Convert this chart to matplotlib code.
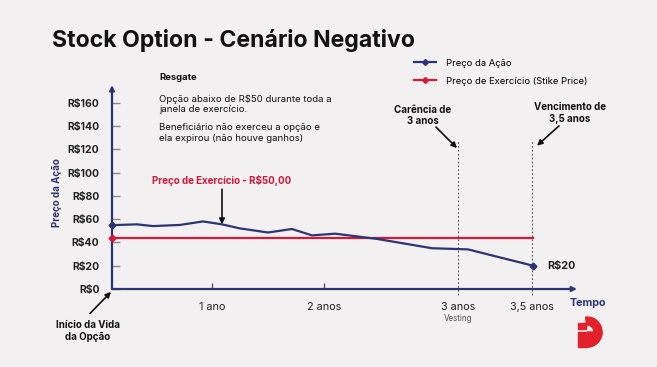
import matplotlib.pyplot as plt
from matplotlib.patches import Wedge, Rectangle

# Data (time axis in relative units, stock price in R$)
price_t = [0.0, 0.25, 0.41, 0.68, 0.91, 1.10, 1.28, 1.56, 1.80, 2.00, 2.23, 2.65, 3.20, 3.56, 4.21]
price_v = [54.8, 55.5, 54.0, 55.0, 58.0, 55.5, 52.0, 48.5, 51.5, 46.0, 47.5, 43.0, 35.0, 34.0, 20.0]
strike_t = [0.0, 4.21]
strike_v = [44.0, 44.0]
y_ticks = [0, 20, 40, 60, 80, 100, 120, 140, 160]
y_labels = ['R$' + str(v) for v in y_ticks]
x_ticks = [1.0, 2.12, 3.46, 4.20]
x_labels = ['1 ano', '2 anos', '3 anos', '3,5 anos']

NAVY = '#2d3474'
RED = '#d6173a'
BG = '#f2f0f1'
plt.rcParams['font.family'] = ['Inter', 'DejaVu Sans']

W, H = 657, 367
fig = plt.figure(figsize=(W / 100, H / 100), dpi=100)
fig.patch.set_facecolor(BG)

# axes placed so that origin sits at pixel (112, 289)
x0, y0, x1, y1 = 112, 289, 600, 80
ax = fig.add_axes([x0 / W, 1 - y0 / H, (x1 - x0) / W, (y0 - y1) / H])
ax.patch.set_alpha(0)
ax.set_xlim(0, (x1 - x0) / 100)
ax.set_ylim(0, (y0 - y1) / 23.3 * 20)
for s in ax.spines.values():
    s.set_visible(False)

def px(x, y):
    # pixel -> figure fraction
    return (x / W, 1 - y / H)

# axes arrows
ax.annotate('', xy=(4.65, 0), xytext=(0, 0), xycoords='data',
            arrowprops=dict(arrowstyle='-|>', color=NAVY, lw=1.6, mutation_scale=7,
                            shrinkA=0, shrinkB=0), annotation_clip=False)
ax.annotate('', xy=(0, 175), xytext=(0, 0), xycoords='data',
            arrowprops=dict(arrowstyle='-|>', color=NAVY, lw=1.6, mutation_scale=7,
                            shrinkA=0, shrinkB=0), annotation_clip=False)

# ticks
ax.set_yticks(y_ticks)
ax.set_yticklabels(y_labels, fontsize=7.5, fontweight='bold', color='#222222')
ax.tick_params(axis='y', direction='in', length=6, width=1, color='#8a8a8a', pad=9)
ax.set_xticks(x_ticks[:2])
ax.set_xticklabels([])
ax.tick_params(axis='x', direction='in', length=4, width=1, color='#555555')
for t, lab in zip(x_ticks, x_labels):
    ax.text(t, -15.5, lab, ha='center', va='center', fontsize=7.8, color='#222222')
ax.text(3.46, -25, 'Vesting', ha='center', va='center', fontsize=5.8, color='#555555')

# dotted vertical markers for vesting and expiry
for t in x_ticks[2:]:
    ax.plot([t, t], [-5, 128], ls=(0, (1.5, 2)), lw=0.8, color='#555555', clip_on=False)

# series
ax.plot(strike_t, strike_v, color=RED, lw=1.6, marker='D', markersize=3.5,
        markevery=[0], clip_on=False, zorder=3)
ax.plot(price_t, price_v, color=NAVY, lw=1.6, marker='D', markersize=3.5,
        markevery=[0, len(price_t) - 1], clip_on=False, zorder=4)

ax.text(4.35, 20, 'R$20', ha='left', va='center', fontsize=7.8, fontweight='bold', color='#222222')
ax.set_ylabel('Preço da Ação', fontsize=7, fontweight='bold', color=NAVY)
ax.yaxis.set_label_coords(-0.103, 0.46)

# annotations
arrow = dict(arrowstyle='-|>', color='#111111', lw=1.2, mutation_scale=8, shrinkA=0, shrinkB=0)
ax.annotate('Preço de Exercício - R$50,00', xy=(1.10, 55.5), xytext=(1.10, 88),
            ha='center', va='bottom', fontsize=7, fontweight='bold', color=RED,
            arrowprops=arrow)
ax.text(3.11, 149, 'Carência de\n3 anos', ha='center', va='center', fontsize=7,
        fontweight='bold', color='#111111', linespacing=1.15)
ax.annotate('', xy=(3.45, 121), xytext=(3.24, 139), arrowprops=arrow)
ax.text(4.58, 151, 'Vencimento de\n3,5 anos', ha='center', va='center', fontsize=7,
        fontweight='bold', color='#111111', linespacing=1.15, clip_on=False)
ax.annotate('', xy=(4.25, 123), xytext=(4.47, 140), arrowprops=arrow, annotation_clip=False)
ax.text(-0.24, -36, 'Início da Vida\nda Opção', ha='center', va='center', fontsize=7,
        fontweight='bold', color='#111111', linespacing=1.15, clip_on=False)
ax.annotate('', xy=(-0.01, -2.5), xytext=(-0.22, -21), arrowprops=arrow, annotation_clip=False)
ax.text(4.58, -12, 'Tempo', ha='left', va='center', fontsize=7.8, fontweight='bold', color=NAVY)

# title and notes
fig.text(*px(52, 41), 'Stock Option - Cenário Negativo', fontsize=16.6, fontweight='bold',
         color='#111111', ha='left', va='center')
fig.text(*px(159, 78), 'Resgate', fontsize=6.8, fontweight='bold', color='#111111', va='center')
fig.text(*px(159, 104), 'Opção abaixo de R$50 durante toda a\njanela de exercício.',
         fontsize=6.9, color='#111111', va='center', linespacing=1.15)
fig.text(*px(159, 133), 'Beneficiário não exerceu a opção e\nela expirou (não houve ganhos)',
         fontsize=6.9, color='#111111', va='center', linespacing=1.15)

# legend
h1, = ax.plot([], [], color=NAVY, lw=1.6, marker='D', markersize=3)
h2, = ax.plot([], [], color=RED, lw=1.6, marker='D', markersize=3)
fig.legend([h1, h2], ['Preço da Ação', 'Preço de Exercício (Stike Price)'],
           loc='upper left', bbox_to_anchor=px(410, 55), frameon=False, fontsize=6.8,
           handlelength=2.4, handletextpad=1.0, labelspacing=0.95, borderaxespad=0)

# logo (pixel-based inches transform keeps it round)
LOGO = '#e3212b'
tr = fig.dpi_scale_trans
def inch(x, y):
    return (x / 100, (H - y) / 100)
fig.add_artist(Wedge(inch(587, 332), 0.15, 270, 95, width=0.08, transform=tr, color=LOGO))
fig.add_artist(Wedge(inch(587, 332), 0.15, 270, 360, transform=tr, color=LOGO))
fig.add_artist(Rectangle(inch(578, 347), 0.09, 0.15, transform=tr, color=LOGO))
fig.add_artist(Rectangle(inch(578, 329), 0.075, 0.065, transform=tr, color=LOGO))

fig.savefig('out.png', dpi=100, facecolor=BG)
